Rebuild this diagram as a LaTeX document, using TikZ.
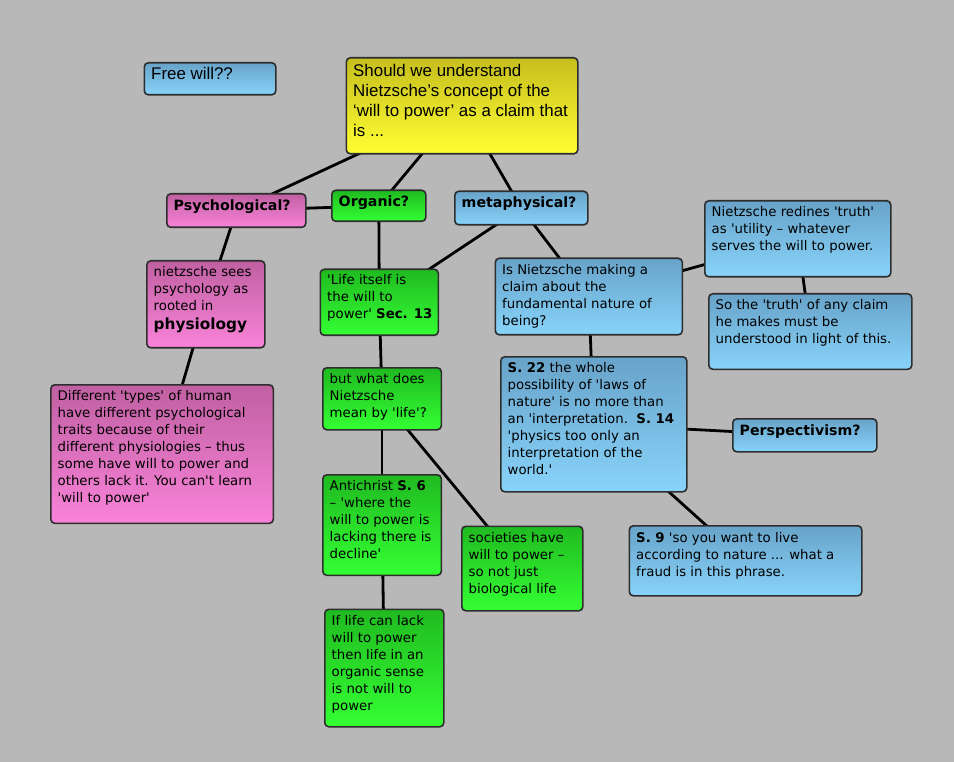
\documentclass[tikz,border=0pt]{standalone}
\usepackage{fontspec}
\newfontfamily\bodyf{DejaVu Sans}
\newfontfamily\helv{Liberation Sans}
\usetikzlibrary{calc}
\pgfdeclarelayer{back}
\pgfdeclarelayer{bg}
\pgfsetlayers{back,bg,main}
\definecolor{bgc}{HTML}{B8B8B8}
\definecolor{boxedge}{HTML}{2E2E2E}
\definecolor{blueT}{HTML}{68A3C9}
\definecolor{blueB}{HTML}{88D3FA}
\definecolor{greenT}{HTML}{20BA20}
\definecolor{greenB}{HTML}{34FF34}
\definecolor{pinkT}{HTML}{C060A2}
\definecolor{pinkB}{HTML}{F983D9}
\definecolor{yellowT}{HTML}{C6BE1E}
\definecolor{yellowB}{HTML}{FFFF33}
\tikzset{
  boxbase/.style={draw=boxedge, line width=1.6pt, rounded corners=4pt, anchor=north west, inner sep=0pt},
  bluebox/.style={boxbase, top color=blueT, bottom color=blueB},
  greenbox/.style={boxbase, top color=greenT, bottom color=greenB},
  pinkbox/.style={boxbase, top color=pinkT, bottom color=pinkB},
  yellowbox/.style={boxbase, top color=yellowT, bottom color=yellowB},
  txt/.style={anchor=base west, inner sep=0pt, text=black},
  body/.style={txt, font=\bodyf\fontsize{13.3}{17}\selectfont},
  head/.style={txt, font=\bodyf\bfseries\fontsize{14.2}{17}\selectfont},
  helvt/.style={txt, font=\helv\fontsize{16.9}{20}\selectfont},
  link/.style={line width=2.8pt, black},
}
% name, x, y, w, h, box style, text style, text
\newcommand\mkbox[9]{%
  \node[#6, minimum width=#4pt, minimum height=#5pt] (#1) at (#2,#3) {};
  \node[#7] (#1t) at ([xshift=7.5pt,yshift=-#9pt]#1.north west)
    {\begin{tabular}[t]{@{}l@{}}#8\end{tabular}};
}
\begin{document}
\begin{tikzpicture}[x=1pt,y=-1pt]
\useasboundingbox (0,0) rectangle (954,762);
\begin{pgfonlayer}{back}
\fill[bgc] (0,0) rectangle (954,762);
\end{pgfonlayer}

\mkbox{free}{143.5}{62}{131.5}{32}{bluebox}{helvt}{Free will??}{18}
\mkbox{top}{345.5}{57}{231.5}{96}{yellowbox}{helvt}{Should we understand\\Nietzsche’s concept of the\\‘will to power’ as a claim that\\is ...}{19.5}

\mkbox{psych}{166}{193}{139}{33.5}{pinkbox}{head}{Psychological?}{18}
\mkbox{org}{331}{189.5}{94}{31}{greenbox}{head}{Organic?}{17}
\mkbox{meta}{454}{190.5}{133}{33.5}{bluebox}{head}{metaphysical?}{17}

\mkbox{nsees}{146}{260}{118}{87}{pinkbox}{body}{nietzsche sees\\psychology as\\rooted in\\[2pt]{\bfseries\fontsize{15.3}{17}\selectfont physiology}}{16.5}
\mkbox{diff}{50}{384}{222.5}{138.5}{pinkbox}{body}{Different 'types' of human\\have different psychological\\traits because of their\\different physiologies – thus\\some have will to power and\\others lack it. You can't learn\\'will to power'}{16.5}

\mkbox{life}{319.5}{268.5}{118}{66}{greenbox}{body}{'Life itself is\\the will to\\power' \textbf{Sec. 13}}{16.5}
\mkbox{but}{322}{367}{118.5}{62}{greenbox}{body}{but what does\\Nietzsche\\mean by 'life'?}{16.5}
\mkbox{anti}{322}{474}{118.5}{100.5}{greenbox}{body}{Antichrist \textbf{S. 6}\\– 'where the\\will to power is\\lacking there is\\decline'}{16.5}
\mkbox{iflife}{324}{608.5}{119}{117.5}{greenbox}{body}{If life can lack\\will to power\\then life in an\\organic sense\\is not will to\\power}{16.5}
\mkbox{soc}{461}{525.5}{121}{84.5}{greenbox}{body}{societies have\\will to power –\\so not just\\biological life}{16.5}

\mkbox{isn}{494.5}{257.5}{187}{76.5}{bluebox}{body}{Is Nietzsche making a\\claim about the\\fundamental nature of\\being?}{17}
\mkbox{redef}{704}{200}{186}{76}{bluebox}{body}{Nietzsche redines 'truth'\\as 'utility – whatever\\serves the will to power.}{17}
\mkbox{sotruth}{708}{293}{203}{75.5}{bluebox}{body}{So the 'truth' of any claim\\he makes must be\\understood in light of this.}{17}
\mkbox{s22}{500}{356}{186}{135}{bluebox}{body}{\textbf{S. 22} the whole\\possibility of 'laws of\\nature' is no more than\\an 'interpretation.\ \ \textbf{S. 14}\\'physics too only an\\interpretation of the\\world.'}{17}
\mkbox{persp}{732}{418}{144}{33}{bluebox}{head}{Perspectivism?}{17}
\mkbox{s9}{628.5}{525}{232.5}{70}{bluebox}{body}{\textbf{S. 9} 'so you want to live\\according to nature ... what a\\fraud is in this phrase.}{17}

\begin{pgfonlayer}{bg}
  \draw[link] (top.center) -- (psych.center);
  \draw[link] (top.center) -- (org.center);
  \draw[link] (top.center) -- (meta.center);
  \draw[link] (psych.center) -- (org.center);
  \draw[link] (psych.center) -- (nsees.center);
  \draw[link] (nsees.center) -- (diff.center);
  \draw[link] (org.center) -- (life.center);
  \draw[link] (meta.center) -- (life.center);
  \draw[link] (meta.center) -- (isn.center);
  \draw[link] (life.center) -- (but.center);
  \draw[link] (but.center) -- (anti.center);
  \draw[link] (but.center) -- (soc.center);
  \draw[link] (anti.center) -- (iflife.center);
  \draw[link] (isn.center) -- (redef.center);
  \draw[link] (redef.center) -- (sotruth.center);
  \draw[link] (isn.center) -- (s22.center);
  \draw[link] (s22.center) -- (persp.center);
  \draw[link] (s22.center) -- (s9.center);
\end{pgfonlayer}
\end{tikzpicture}
\end{document}
